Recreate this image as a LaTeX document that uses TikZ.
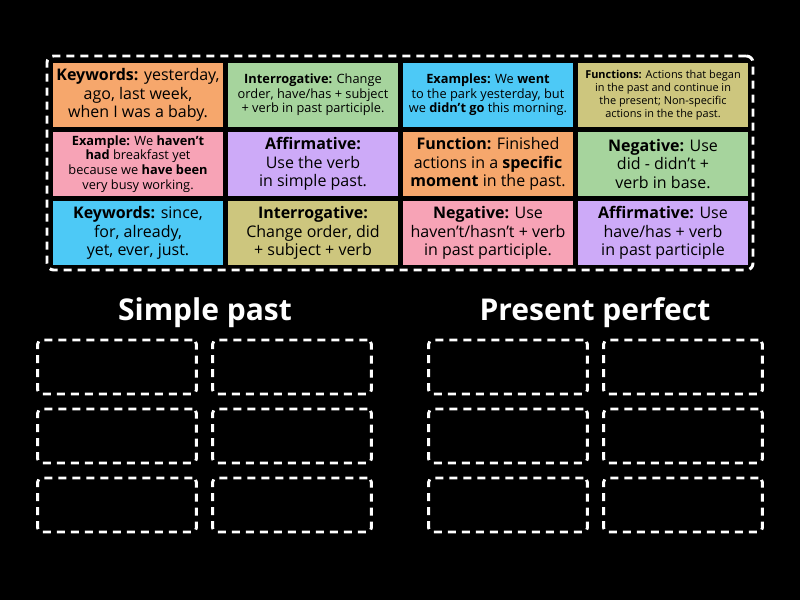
\documentclass[tikz,border=0pt]{standalone}
\usepackage{fontspec}
\setmainfont{Open Sans}
\definecolor{cOrange}{HTML}{F6A76C}
\definecolor{cGreen}{HTML}{A6D49D}
\definecolor{cBlue}{HTML}{4DC9F6}
\definecolor{cKhaki}{HTML}{CDC67E}
\definecolor{cPink}{HTML}{F7A3B6}
\definecolor{cPurple}{HTML}{CDAAF8}
\tikzset{
card/.style={fill=#1,draw=none,minimum width=127.5pt,minimum height=48pt,align=center,inner sep=1pt},
big/.style={font=\fontsize{12}{14}\selectfont},
mid/.style={font=\fontsize{9.6}{11}\selectfont},
small/.style={font=\fontsize{8.2}{9.6}\selectfont},
slot/.style={draw=white,line width=2.2pt,dash pattern=on 6pt off 4.5pt,rounded corners=3pt,minimum width=119pt,minimum height=40.5pt},
title/.style={text=white,font=\fontsize{22.5}{26}\selectfont\bfseries}
}
\begin{document}
\begin{tikzpicture}[x=0.75pt,y=-0.75pt]
\fill[black] (0,0) rectangle (800,600);
\node[draw=white,line width=2.2pt,dash pattern=on 6pt off 4.5pt,rounded corners=5pt,minimum width=529.5pt,minimum height=160.5pt]
(bank) at (400,163) {};
% row 1
\node[card=cOrange,big] (k1) at (138,95) {\textbf{Keywords:} yesterday,\\ago, last week,\\when I was a baby.};
\node[card=cGreen,mid] (i1) at (313,95) {\textbf{Interrogative:} Change\\order, have/has + subject\\+ verb in past participle.};
\node[card=cBlue,mid] (e1) at (488,95) {\textbf{Examples:} We \textbf{went}\\to the park yesterday, but\\we \textbf{didn't go} this morning.};
\node[card=cKhaki,small] (f1) at (663,95) {\textbf{Functions:} Actions that began\\in the past and continue in\\the present; Non-specific\\actions in the the past.};
% row 2
\node[card=cPink,mid] (e2) at (138,164) {\textbf{Example:} We \textbf{haven't}\\\textbf{had} breakfast yet\\because we \textbf{have been}\\very busy working.};
\node[card=cPurple,big] (a2) at (313,164) {\textbf{Affirmative:}\\Use the verb\\in simple past.};
\node[card=cOrange,big] (f2) at (488,164) {\textbf{Function:} Finished\\actions in a \textbf{specific}\\\textbf{moment} in the past.};
\node[card=cGreen,big] (n2) at (663,164) {\textbf{Negative:} Use\\did - didn't +\\verb in base.};
% row 3
\node[card=cBlue,big] (k3) at (138,233) {\textbf{Keywords:} since,\\for, already,\\yet, ever, just.};
\node[card=cKhaki,big] (i3) at (313,233) {\textbf{Interrogative:}\\Change order, did\\+ subject + verb};
\node[card=cPink,big] (n3) at (488,233) {\textbf{Negative:} Use\\haven't/hasn't + verb\\in past participle.};
\node[card=cPurple,big] (a3) at (663,233) {\textbf{Affirmative:} Use\\have/has + verb\\in past participle};
% titles
\node[title] (past) at (205,313) {Simple past};
\node[title] (perf) at (595,313) {Present perfect};
% slots
\foreach \c/\x in {a/117,b/292,c/508,d/683}
  \foreach \r/\y in {1/367,2/436,3/505}
    \node[slot] (s\c\r) at (\x,\y) {};
\end{tikzpicture}
\end{document}
